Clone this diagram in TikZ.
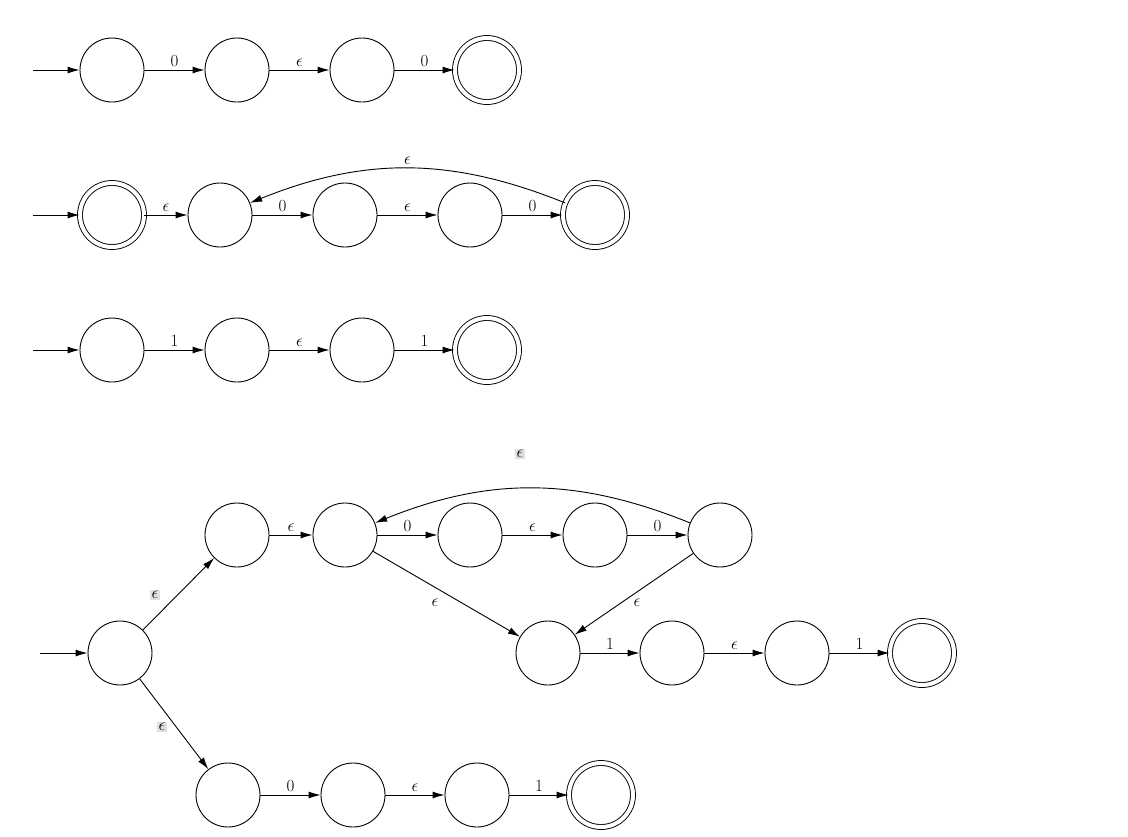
\documentclass[tikz,border=0pt]{standalone}
\usetikzlibrary{arrows.meta}
\begin{document}
\begin{tikzpicture}[x=1pt,y=-1pt,
 st/.style={circle,draw,line width=0.9pt,minimum size=64pt,inner sep=0pt},
 acc/.style={st,double,double distance=4pt,line width=0.9pt},
 ed/.style={-{Latex[length=12pt,width=7pt]},line width=0.9pt},
 lb/.style={font=\fontsize{17}{20}\selectfont,above,inner sep=3pt},
 gl/.style={font=\fontsize{17}{20}\selectfont,fill=black!12,inner sep=1.5pt}]
\useasboundingbox (0,0) rectangle (1128,836);
% row 1
\node[st] (a1) at (112,70) {};
\node[st] (a2) at (237,70) {};
\node[st] (a3) at (362,70) {};
\node[acc] (a4) at (487,70) {};
\coordinate (a0) at (33,70);
\draw[ed] (a0) -- (a1);
\draw[ed] (a1) -- node[lb]{0} (a2);
\draw[ed] (a2) -- node[lb]{$\epsilon$} (a3);
\draw[ed] (a3) -- node[lb]{0} (a4);
% row 2
\node[acc] (b1) at (112,215) {};
\node[st] (b2) at (220,215) {};
\node[st] (b3) at (345,215) {};
\node[st] (b4) at (470,215) {};
\node[acc] (b5) at (595,215) {};
\coordinate (b0) at (33,215);
\draw[ed] (b0) -- (b1);
\draw[ed] (b1) -- node[lb]{$\epsilon$} (b2);
\draw[ed] (b2) -- node[lb]{0} (b3);
\draw[ed] (b3) -- node[lb]{$\epsilon$} (b4);
\draw[ed] (b4) -- node[lb]{0} (b5);
\draw[ed] (b5) to[bend right=22] node[lb]{$\epsilon$} (b2);
% row 3
\node[st] (c1) at (112,350) {};
\node[st] (c2) at (237,350) {};
\node[st] (c3) at (362,350) {};
\node[acc] (c4) at (487,350) {};
\coordinate (c0) at (33,350);
\draw[ed] (c0) -- (c1);
\draw[ed] (c1) -- node[lb]{1} (c2);
\draw[ed] (c2) -- node[lb]{$\epsilon$} (c3);
\draw[ed] (c3) -- node[lb]{1} (c4);
% group 4
\node[st] (s) at (120,653) {};
\coordinate (s0) at (40,653);
\draw[ed] (s0) -- (s);
\node[st] (u1) at (237,535) {};
\node[st] (u2) at (345,535) {};
\node[st] (u3) at (470,535) {};
\node[st] (u4) at (595,535) {};
\node[st] (u5) at (720,535) {};
\node[st] (m1) at (548,653) {};
\node[st] (m2) at (672,653) {};
\node[st] (m3) at (797,653) {};
\node[acc] (m4) at (922,653) {};
\node[st] (l1) at (228,795) {};
\node[st] (l2) at (353,795) {};
\node[st] (l3) at (477,795) {};
\node[acc] (l4) at (601,795) {};
\draw[ed] (s) -- (u1);
\node[gl] at (155,595) {$\epsilon$};
\draw[ed] (s) -- (l1);
\node[gl] at (162,727) {$\epsilon$};
\draw[ed] (u1) -- node[lb]{$\epsilon$} (u2);
\draw[ed] (u2) -- node[lb]{0} (u3);
\draw[ed] (u3) -- node[lb]{$\epsilon$} (u4);
\draw[ed] (u4) -- node[lb]{0} (u5);
\draw[ed] (u5) to[bend right=22] coordinate[pos=0.5] (top) (u2);
\node[gl] at (520,454) {$\epsilon$};
\draw[ed] (u2) -- (m1);
\node[font=\fontsize{17}{20}\selectfont] at (435,603) {$\epsilon$};
\draw[ed] (u5) -- (m1);
\node[font=\fontsize{17}{20}\selectfont] at (637,603) {$\epsilon$};
\draw[ed] (m1) -- node[lb]{1} (m2);
\draw[ed] (m2) -- node[lb]{$\epsilon$} (m3);
\draw[ed] (m3) -- node[lb]{1} (m4);
\draw[ed] (l1) -- node[lb]{0} (l2);
\draw[ed] (l2) -- node[lb]{$\epsilon$} (l3);
\draw[ed] (l3) -- node[lb]{1} (l4);
\end{tikzpicture}
\end{document}
